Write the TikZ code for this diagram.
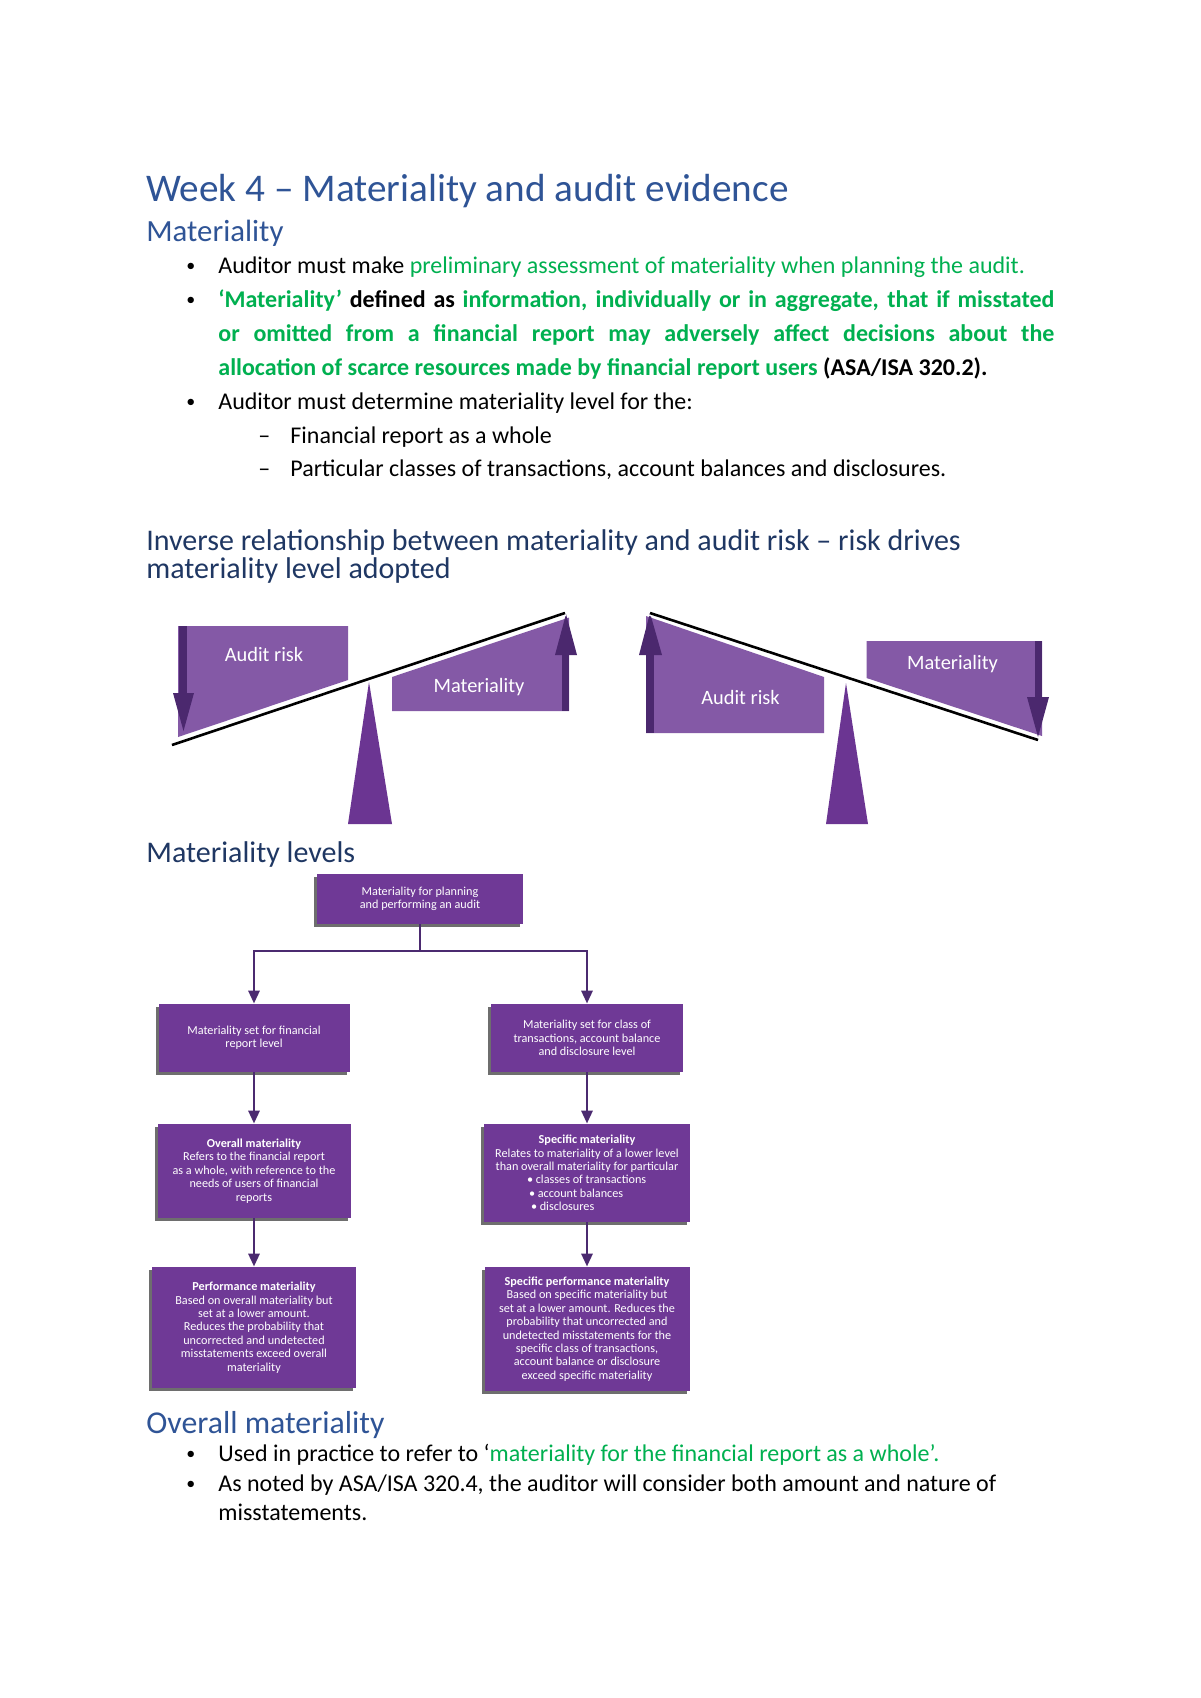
\documentclass[tikz,border=0pt]{standalone}
\usepackage{fontspec}
\setmainfont{Carlito}
\usetikzlibrary{arrows.meta,shadows}
\definecolor{hblue}{HTML}{2F5496}
\definecolor{hnavy}{HTML}{1F3763}
\definecolor{kgreen}{HTML}{00B050}
\definecolor{blockp}{HTML}{8459A6}
\definecolor{darkp}{HTML}{4B286E}
\definecolor{fulp}{HTML}{6B3592}
\definecolor{boxp}{HTML}{6F3996}
\definecolor{shadowg}{HTML}{6E6E6E}
\definecolor{linep}{HTML}{4B2A70}
\newcommand{\mybul}{\raisebox{0.9pt}{\fontsize{9}{9}\selectfont •}}
\begin{document}
\begin{tikzpicture}[x=0.5pt,y=-0.5pt,
  body/.style={anchor=base west,inner sep=0,font=\fontsize{12}{14}\selectfont},
  hone/.style={anchor=base west,inner sep=0,text=hblue,font=\fontsize{19.6}{22}\selectfont},
  htwo/.style={anchor=base west,inner sep=0,text=hblue,font=\fontsize{15.4}{18}\selectfont},
  hthree/.style={anchor=base west,inner sep=0,text=hnavy,font=\fontsize{15}{17}\selectfont},
  lab/.style={text=white,inner sep=0,font=\fontsize{10.2}{12}\selectfont},
  fbox/.style={fill=boxp,text=white,align=center,inner sep=0,font=\fontsize{6.1}{6.7}\selectfont,
    drop shadow={shadow xshift=-1.3pt,shadow yshift=-1.3pt,fill=shadowg,opacity=1}},
  conn/.style={draw=linep,line width=1.45pt,-{Triangle[width=5.5pt,length=6.5pt]}},
  beamhalo/.style={white,line width=3pt},
  beamline/.style={black,line width=1.3pt},
]
\fill[white] (0,0) rectangle (1200,1698);
\useasboundingbox (0,0) rectangle (1200,1698);

% ---------- headings and text ----------
\node[hone] (title) at (146,201) {Week 4 – Materiality and audit evidence};
\node[htwo] (hmat) at (146,241.5) {Materiality};

\node[body] (b1) at (186,273.5) {\mybul};
\node[body] (t1) at (218,273.5) {Auditor must make \textcolor{kgreen}{preliminary assessment of materiality when planning the audit.}};
\node[body] (b2) at (186,307.4) {\mybul};
\node[body] (t2) at (218,307.4) {\makebox[418pt][s]{\bfseries\textcolor{kgreen}{‘Materiality’} defined as \textcolor{kgreen}{information, individually or in aggregate, that if misstated}}};
\node[body] (t3) at (218,341.3) {\makebox[418pt][s]{\bfseries\color{kgreen}or omitted from a financial report may adversely affect decisions about the}};
\node[body] (t4) at (218,375.2) {\bfseries\textcolor{kgreen}{allocation of scarce resources made by financial report users} (ASA/ISA 320.2).};
\node[body] (b5) at (186,409.1) {\mybul};
\node[body] (t5) at (218,409.1) {Auditor must determine materiality level for the:};
\node[body] (d6) at (258,443) {–};
\node[body] (t6) at (290,443) {Financial report as a whole};
\node[body] (d7) at (258,476.9) {–};
\node[body] (t7) at (290,476.9) {Particular classes of transactions, account balances and disclosures.};

\node[hthree] (hinv1) at (146,550.5) {Inverse relationship between materiality and audit risk – risk drives};
\node[hthree] (hinv2) at (146,578.5) {materiality level adopted};

% ---------- see-saws ----------
% left
\fill[fulp] (348,824) -- (392,824) -- (369,682) -- cycle;
\fill[blockp] (178,626) -- (348,626) -- (348,680) -- (178,737) -- cycle;
\fill[blockp] (392,677) -- (569,617.5) -- (569,711) -- (392,711) -- cycle;
\fill[darkp] (179,626) rectangle (187,694);
\fill[darkp] (173,693) -- (194,693) -- (183.5,731) -- cycle;
\fill[darkp] (561.5,711) rectangle (569,654);
\fill[darkp] (555,655) -- (577,655) -- (566,614) -- cycle;
\draw[beamhalo] (172,745) -- (565,613);
\draw[beamline] (172,745) -- (565,613);
\node[lab] (lar) at (264,654) {Audit risk};
\node[lab] (lmat) at (479,687) {Materiality};
% right
\fill[fulp] (826,824) -- (868,824) -- (846,683) -- cycle;
\fill[blockp] (646,616) -- (824,677) -- (824,733) -- (646,733) -- cycle;
\fill[blockp] (866.5,641) -- (1042,641) -- (1042,736) -- (866.5,678) -- cycle;
\fill[darkp] (646,733) rectangle (653.5,654);
\fill[darkp] (639,655) -- (662,655) -- (650,613) -- cycle;
\fill[darkp] (1034.5,641) rectangle (1042,698);
\fill[darkp] (1027,697) -- (1049,697) -- (1038,737) -- cycle;
\draw[beamhalo] (650,613) -- (1038,740);
\draw[beamline] (650,613) -- (1038,740);
\node[lab] (rar) at (740.5,697) {Audit risk};
\node[lab] (rmat) at (952.5,664) {Materiality};

% ---------- materiality levels ----------
\node[hthree] (hlev) at (146,862) {Materiality levels};

\node[fbox,minimum width=103pt,minimum height=25pt] (top) at (420,899)
  {Materiality for planning\\and performing an audit};
\node[fbox,minimum width=95.5pt,minimum height=34pt] (r2l) at (254,1038)
  {Materiality set for financial\\report level};
\node[fbox,minimum width=96pt,minimum height=34pt] (r2r) at (587,1038)
  {Materiality set for class of\\transactions, account balance\\and disclosure level};
\node[fbox,minimum width=96.5pt,minimum height=47pt] (r3l) at (254,1171)
  {\textbf{Overall materiality}\\Refers to the financial report\\as a whole, with reference to the\\needs of users of financial\\reports};
\node[fbox,minimum width=103pt,minimum height=49pt] (r3r) at (587,1173)
  {\textbf{Specific materiality}\\Relates to materiality of a lower level\\than overall materiality for particular\\
   \makebox[60pt][l]{• classes of transactions}\\
   \makebox[60pt][l]{\hspace{1pt}• account balances}\\
   \makebox[60pt][l]{\hspace{2pt}• disclosures}};
\node[fbox,minimum width=102pt,minimum height=60.5pt] (r4l) at (254,1327.5)
  {\textbf{Performance materiality}\\Based on overall materiality but\\set at a lower amount.\\Reduces the probability that\\uncorrected and undetected\\misstatements exceed overall\\materiality};
\node[fbox,minimum width=102.5pt,minimum height=62pt] (r4r) at (587,1329)
  {\textbf{Specific performance materiality}\\Based on specific materiality but\\set at a lower amount. Reduces the\\probability that uncorrected and\\undetected misstatements for the\\specific class of transactions,\\account balance or disclosure\\exceed specific materiality};

\coordinate (split) at (420,951);
\draw[draw=linep,line width=1.45pt] (top.south) -- (split);
\draw[conn] (split) -| (r2l.north);
\draw[conn] (split) -| (r2r.north);
\draw[conn] (r2l.south) -- (r3l.north);
\draw[conn] (r2r.south) -- (r3r.north);
\draw[conn] (r3l.south) -- (r4l.north);
\draw[conn] (r3r.south) -- (r4r.north);

% ---------- overall materiality ----------
\node[htwo,font=\fontsize{15.9}{18}\selectfont] (hover) at (146,1433) {Overall materiality};
\node[body] (ob1) at (186,1461) {\mybul};
\node[body] (ot1) at (218,1461) {Used in practice to refer to ‘\textcolor{kgreen}{materiality for the financial report as a whole’.}};
\node[body] (ob2) at (186,1491) {\mybul};
\node[body] (ot2) at (218,1491) {As noted by ASA/ISA 320.4, the auditor will consider both amount and nature of};
\node[body] (ot3) at (218,1520) {misstatements.};
\end{tikzpicture}
\end{document}
